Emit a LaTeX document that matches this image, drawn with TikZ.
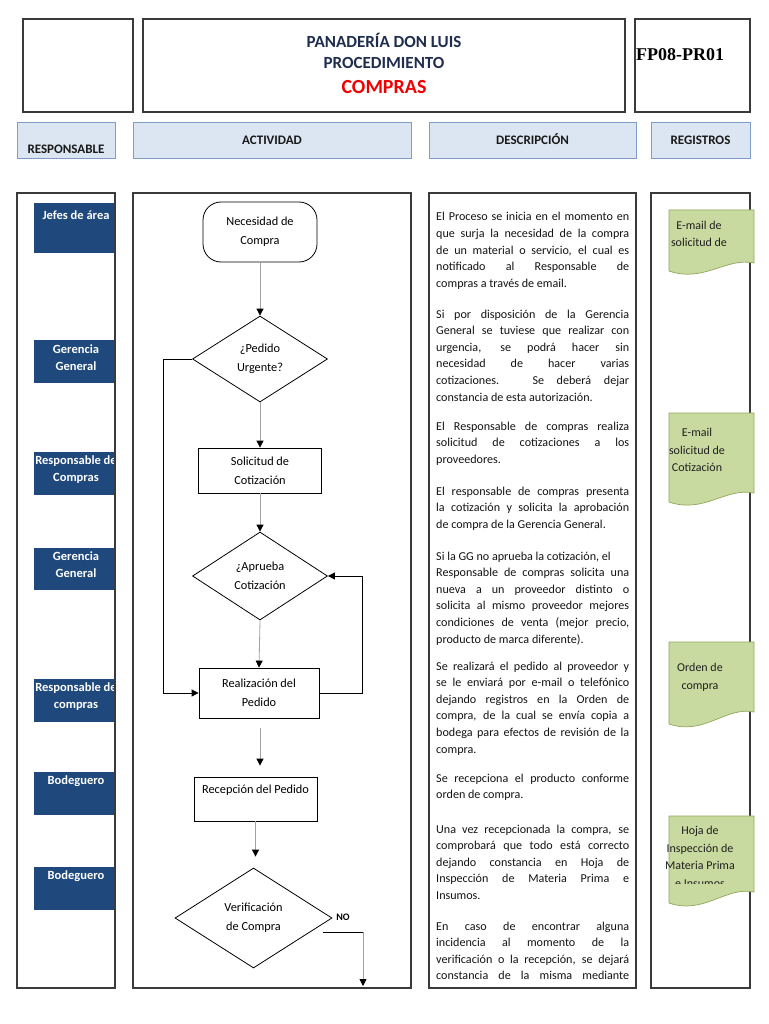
\documentclass[tikz,border=0pt]{standalone}
\usepackage{fontspec}
\setmainfont{Carlito}
\newfontfamily\timesfont{Liberation Serif}
\usetikzlibrary{shapes.geometric,arrows.meta,calc}
\definecolor{navy}{HTML}{1F2D4F}
\definecolor{titlered}{HTML}{F00000}
\definecolor{hdrfill}{HTML}{DCE6F2}
\definecolor{hdrline}{HTML}{7E9CC6}
\definecolor{respblue}{HTML}{1F497D}
\definecolor{docgreen}{HTML}{C9DAA0}
\definecolor{docline}{HTML}{8FA85C}
\definecolor{frame}{HTML}{3A3A3A}
\definecolor{conngray}{HTML}{A0A0A0}
\newcommand\jline[1]{\hbox to 193pt{#1}}
\newcommand\lline[1]{\hbox{#1}}
\newcommand\docshape[3]{\path[docsh] (669,#1) -- (754,#1) -- (754,#2) .. controls (726,#2-6) and (704,#3+12) .. (669,#3) -- cycle;}
\begin{document}
\begin{tikzpicture}[x=1pt,y=-1pt,
 frm/.style={draw=frame,line width=1.3pt,inner sep=0pt,outer sep=0pt},
 hdr/.style={draw=hdrline,fill=hdrfill,line width=0.9pt,inner sep=0pt,outer sep=0pt},
 hdrtxt/.style={font=\bfseries\fontsize{13}{15}\selectfont,text=black!90,inner sep=0pt,anchor=base},
 titletxt/.style={font=\bfseries\fontsize{17}{19}\selectfont,text=navy,inner sep=0pt,anchor=base},
 resp/.style={fill=respblue,draw=none,inner sep=0pt,outer sep=0pt,minimum width=81pt},
 resptxt/.style={font=\bfseries\fontsize{12.5}{17}\selectfont,text=white,align=center,inner sep=0pt},
 flowbox/.style={draw=black,line width=0.8pt,inner sep=0pt,align=center,font=\fontsize{12.3}{19}\selectfont},
 decision/.style={flowbox,shape=diamond,aspect=1.5},
 conn/.style={draw=conngray,line width=0.8pt,-{Triangle[length=7pt,width=7pt,color=black,fill=black]}},
 loopln/.style={draw=black,line width=0.8pt,-{Triangle[length=7pt,width=7pt,color=black,fill=black]}},
 desc/.style={inner sep=0pt,font=\fontsize{12.1}{16.6}\selectfont,text=black!92,anchor=base west},
 docsh/.style={fill=docgreen,draw=docline,line width=0.7pt},
 doctxt/.style={inner sep=0pt,align=center,font=\fontsize{12}{17.5}\selectfont,text=black!88},
]
\fill[white] (0,0) rectangle (768,1024);
\useasboundingbox (0,0) rectangle (768,1024);

% header boxes
\node[frm,minimum width=110pt,minimum height=93pt] (logo) at (78,65.5) {};
\node[frm,minimum width=482pt,minimum height=93pt] (title) at (384,65.5) {};
\node[frm,minimum width=115pt,minimum height=93pt] (code) at (692.5,65.5) {};
\node[titletxt] (tt1) at (384,47.5) {PANADERÍA DON LUIS};
\node[titletxt] (tt2) at (384,68.5) {PROCEDIMIENTO};
\node[titletxt,font=\bfseries\fontsize{20}{22}\selectfont,text=titlered] (tt3) at (384,94) {COMPRAS};
\node[inner sep=0pt,anchor=base,font=\timesfont\bfseries\fontsize{18}{20}\selectfont] (codetxt) at (680,61) {FP08-PR01};

% column headers
\node[hdr,minimum width=98pt,minimum height=36pt] (h1) at (66,140) {};
\node[hdr,minimum width=278pt,minimum height=36pt] (h2) at (272,140) {};
\node[hdr,minimum width=207pt,minimum height=36pt] (h3) at (532.5,140) {};
\node[hdr,minimum width=99pt,minimum height=36pt] (h4) at (700.5,140) {};
\node[hdrtxt] (h1t) at (66,153.5) {RESPONSABLE};
\node[hdrtxt] (h2t) at (272,144.5) {ACTIVIDAD};
\node[hdrtxt] (h3t) at (532.5,144.5) {DESCRIPCIÓN};
\node[hdrtxt] (h4t) at (700.5,144.5) {REGISTROS};

% body columns
\node[frm,minimum width=98pt,minimum height=795pt] (c1) at (66,590.5) {};
\node[frm,minimum width=278pt,minimum height=795pt] (c2) at (272,590.5) {};
\node[frm,minimum width=207pt,minimum height=795pt] (c3) at (532.5,590.5) {};
\node[frm,minimum width=99pt,minimum height=795pt] (c4) at (700.5,590.5) {};

% responsables
\node[resp,minimum height=50pt] (r1) at (74.5,228) {};
\node[resp,minimum height=43pt] (r2) at (74.5,361.5) {};
\node[resp,minimum height=43pt] (r3) at (74.5,473.5) {};
\node[resp,minimum height=42pt] (r4) at (74.5,569) {};
\node[resp,minimum height=43pt] (r5) at (74.5,700.5) {};
\node[resp,minimum height=43pt] (r6) at (74.5,793.5) {};
\node[resp,minimum height=43pt] (r7) at (74.5,888.5) {};
\begin{scope}
\clip (34,190) rectangle (115,990);
\node[resptxt] (r1t) at (76,215) {Jefes de área};
\node[resptxt] (r2t) at (76,357.5) {Gerencia\\General};
\node[resptxt] (r3t) at (76,470) {Responsable de\\Compras};
\node[resptxt] (r4t) at (76,564.5) {Gerencia\\General};
\node[resptxt] (r5t) at (76,696.5) {Responsable de\\compras};
\node[resptxt] (r6t) at (76,781) {Bodeguero};
\node[resptxt] (r7t) at (76,876) {Bodeguero};
\end{scope}
\draw[frame,line width=1.3pt] (c1.north east) -- (c1.south east);

% flowchart
\node[flowbox,rounded corners=18pt,minimum width=114pt,minimum height=60pt] (term) at (260,232) {Necesidad de\\Compra};
\node[decision,minimum width=135pt,minimum height=86pt] (d1) at (260,359) {¿Pedido\\Urgente?};
\node[flowbox,minimum width=123pt,minimum height=45pt] (sol) at (260,470.5) {Solicitud de\\Cotización};
\node[decision,minimum width=135pt,minimum height=88pt] (d2) at (260,576) {¿Aprueba\\Cotización};
\node[flowbox,minimum width=120pt,minimum height=50pt] (real) at (259,693) {Realización del\\Pedido};
\node[flowbox,minimum width=123pt,minimum height=44pt] (recep) at (255.5,799) {Recepción del Pedido\\\mbox{}};
\node[decision,minimum width=157pt,minimum height=100pt] (d3) at (253.5,918) {Verificación\\de Compra};
\node[font=\bfseries\fontsize{10}{12}\selectfont,inner sep=0pt] (no) at (343,917) {NO};

\draw[conn] (term.south) -- (d1.north);
\draw[conn] (d1.south) -- (sol.north);
\draw[conn] (sol.south) -- (d2.north);
\draw[conn] (d2.south) -- (real.north);
\draw[conn] ($(real.south)+(1,10)$) -- ($(real.south |- recep.north)+(1,-11)$);
\draw[conn] (recep.south) -- ($(recep.south |- d3.north)+(0,-11)$);
\draw[loopln] (d1.west) -- ++(-29,0) |- (real.west);
\draw[loopln] (real.east) -- ++(43,0) |- (d2.east);
\coordinate (nostart) at (323,932);
\coordinate (noend) at (363,986);
\draw[black,line width=0.8pt] (nostart) -- (nostart -| noend);
\draw[conn] (nostart -| noend) -- (noend);

% descriptions
\node[desc] (p1) at (436,221) {\vtop{%
\jline{El Proceso se inicia en el momento en}
\jline{que surja la necesidad de la compra}
\jline{de un material o servicio, el cual es}
\jline{notificado al Responsable de}
\lline{compras a través de email.}}};
\node[desc] (p2) at (436,318) {\vtop{%
\jline{Si por disposición de la Gerencia}
\jline{General se tuviese que realizar con}
\jline{urgencia, se podrá hacer sin}
\jline{necesidad de hacer varias}
\jline{cotizaciones. Se deberá dejar}
\lline{constancia de esta autorización.}}};
\node[desc] (p3) at (436,430) {\vtop{%
\jline{El Responsable de compras realiza}
\jline{solicitud de cotizaciones a los}
\lline{proveedores.}}};
\node[desc] (p4) at (436,495) {\vtop{%
\jline{El responsable de compras presenta}
\jline{la cotización y solicita la aprobación}
\lline{de compra de la Gerencia General.}}};
\node[desc] (p5) at (436,560) {\vtop{%
\lline{Si la GG no aprueba la cotización, el}
\jline{Responsable de compras solicita una}
\jline{nueva a un proveedor distinto o}
\jline{solicita al mismo proveedor mejores}
\jline{condiciones de venta (mejor precio,}
\lline{producto de marca diferente).}}};
\node[desc] (p6) at (436,670) {\vtop{%
\jline{Se realizará el pedido al proveedor y}
\jline{se le enviará por e-mail o telefónico}
\jline{dejando registros en la Orden de}
\jline{compra, de la cual se envía copia a}
\jline{bodega para efectos de revisión de la}
\lline{compra.}}};
\node[desc] (p7) at (436,782) {\vtop{%
\jline{Se recepciona el producto conforme}
\lline{orden de compra.}}};
\node[desc] (p8) at (436,833) {\vtop{%
\jline{Una vez recepcionada la compra, se}
\jline{comprobará que todo está correcto}
\jline{dejando constancia en Hoja de}
\jline{Inspección de Materia Prima e}
\lline{Insumos.}}};
\node[desc] (p9) at (436,930) {\vtop{%
\jline{En caso de encontrar alguna}
\jline{incidencia al momento de la}
\jline{verificación o la recepción, se dejará}
\jline{constancia de la misma mediante}}};

% registros
\docshape{210}{263}{271}
\docshape{413}{493}{502}
\docshape{642}{712}{724}
\docshape{816}{892}{903}
\node[doctxt] (g1) at (699,234) {E-mail de\\solicitud de};
\node[doctxt] (g2) at (697,450) {E-mail\\solicitud de\\Cotización};
\node[doctxt] (g3) at (700,677.5) {Orden de\\compra};
\begin{scope}
\clip (600,800) rectangle (768,883);
\node[doctxt] (g4) at (700,857) {Hoja de\\Inspección de\\Materia Prima\\e Insumos};
\end{scope}
\end{tikzpicture}
\end{document}
